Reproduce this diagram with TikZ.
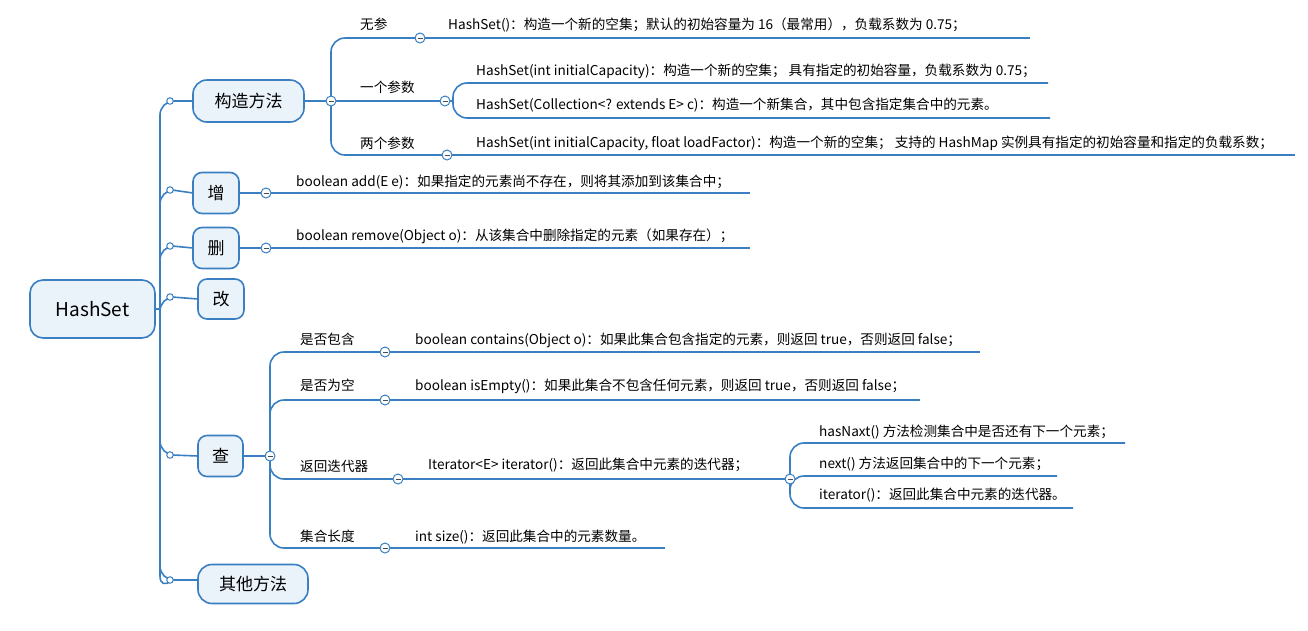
\documentclass[tikz,border=0pt]{standalone}
\usepackage{fontspec}
\setmainfont{Noto Sans CJK SC}
\begin{document}
\begin{tikzpicture}[x=1pt,y=-1pt,
  ln/.style={draw=lc,line width=1.6pt,rounded corners=14pt},
  box/.style={draw=lc,line width=1.6pt,fill=bf,rounded corners=9pt,font=\fontsize{17}{20}\selectfont,inner sep=0pt},
  lf/.style={anchor=base west,font=\fontsize{13.6}{16}\selectfont,inner sep=0pt},
  mn/.style={circle,draw=lc,fill=white,line width=1pt,minimum size=10pt,inner sep=0pt,path picture={\draw[line width=1pt,black!70] ([xshift=-2.5pt]path picture bounding box.center)--([xshift=2.5pt]path picture bounding box.center);}},
  dot/.style={circle,draw=lc,fill=white,line width=1pt,minimum size=6.5pt,inner sep=0pt}]
\definecolor{lc}{HTML}{3A7FC1}
\definecolor{bf}{HTML}{EAF2FA}
\useasboundingbox (0,0) rectangle (1308,630);
% trunk
\draw[ln] (155,309) -- (160,309);
\draw[ln] (172,101) -| (160,590) -- (172,580);
\draw[ln] (160,300) |- (172,190);
\draw[ln] (160,300) |- (172,246);
\draw[ln] (160,300) |- (172,297);
\draw[ln] (160,320) |- (172,455);
\draw[ln] (160,320) |- (198,580);
\draw[ln] (172,101)--(193,101);
\draw[ln] (172,190)--(193,193);
\draw[ln] (172,246)--(193,248);
\draw[ln] (172,297)--(198,299);
\draw[ln] (172,455)--(198,456);
\node[box,minimum width=125pt,minimum height=58pt,rounded corners=13pt,font=\fontsize{19}{22}\selectfont] (root) at (92.5,309) {HashSet};
\node[box,minimum width=111pt,minimum height=42pt,rounded corners=14pt] (gz) at (248.5,101) {构造方法};
\node[box,minimum width=46pt,minimum height=41pt] (zeng) at (216,193) {增};
\node[box,minimum width=46pt,minimum height=41pt] (shan) at (216,248) {删};
\node[box,minimum width=46pt,minimum height=40pt] (gai) at (221,299) {改};
\node[box,minimum width=45pt,minimum height=41pt] (cha) at (220.5,456) {查};
\node[box,minimum width=110pt,minimum height=39pt,rounded corners=14pt] (qt) at (253,584) {其他方法};
\foreach \y/\n in {101/a,190/b,246/c,297/d,455/e,580/f} \node[dot] (d\n) at (170,\y) {};
% 构造方法
\draw[ln] (gz.east) -- (331,101);
\draw[ln] (331,101) |- (420,38);
\draw[ln] (331,101) -- (445,101);
\draw[ln] (331,101) |- (447,155);
\node[lf] (wc) at (360,29) {无参};
\node[lf] (yg) at (360,92) {一个参数};
\node[lf] (lg) at (360,148) {两个参数};
\draw[ln] (420,38) -- (1030,38);
\node[lf] (l1) at (448,29) {HashSet()：构造一个新的空集；默认的初始容量为 16（最常用），负载系数为 0.75；};
\draw[ln] (445,101) -- (453,101);
\draw[ln] (453,101) |- (1048,83);
\draw[ln] (453,101) |- (1050,118);
\node[lf] (l2) at (476,75) {HashSet(int initialCapacity)：构造一个新的空集； 具有指定的初始容量，负载系数为 0.75；};
\node[lf] (l3) at (476,109) {HashSet(Collection<? extends E> c)：构造一个新集合，其中包含指定集合中的元素。};
\draw[ln] (447,155) -- (1295,155);
\node[lf] (l4) at (476,147) {HashSet(int initialCapacity, float loadFactor)：构造一个新的空集； 支持的 HashMap 实例具有指定的初始容量和指定的负载系数；};
\node[mn] (m0) at (331,101) {};
\node[mn] (m1) at (420,38) {};
\node[mn] (m2) at (445,101) {};
\node[mn] (m3) at (447,155) {};
% 增 删
\draw[ln] (zeng.east) -- (266,193) -- (750,193);
\node[lf] (l5) at (296,186) {boolean add(E e)：如果指定的元素尚不存在，则将其添加到该集合中；};
\node[mn] (m4) at (266,193) {};
\draw[ln] (shan.east) -- (266,248) -- (750,248);
\node[lf] (l6) at (296,240) {boolean remove(Object o)：从该集合中删除指定的元素（如果存在）；};
\node[mn] (m5) at (266,248) {};
% 查
\draw[ln] (cha.east) -- (270,456);
\draw[ln] (270,456) |- (385,352);
\draw[ln] (270,456) |- (385,400);
\draw[ln] (270,456) |- (398,479);
\draw[ln] (270,456) |- (385,548);
\node[lf] (c1) at (300,344) {是否包含};
\node[lf] (c2) at (300,390) {是否为空};
\node[lf] (c3) at (300,471) {返回迭代器};
\node[lf] (c4) at (300,541) {集合长度};
\draw[ln] (385,352) -- (980,352);
\node[lf] (l7) at (415,344) {boolean contains(Object o)：如果此集合包含指定的元素，则返回 true，否则返回 false；};
\draw[ln] (385,400) -- (920,400);
\node[lf] (l8) at (415,390) {boolean isEmpty()：如果此集合不包含任何元素，则返回 true，否则返回 false；};
\draw[ln] (398,479) -- (790,479);
\node[lf] (l9) at (428,469) {Iterator<E> iterator()：返回此集合中元素的迭代器；};
\draw[ln] (790,479) |- (1125,443);
\draw[ln] (790,479) |- (1057,476);
\draw[ln] (790,479) |- (1073,508);
\node[lf] (s1) at (819,436) {hasNaxt() 方法检测集合中是否还有下一个元素；};
\node[lf] (s2) at (819,468) {next() 方法返回集合中的下一个元素；};
\node[lf] (s3) at (819,499) {iterator()：返回此集合中元素的迭代器。};
\draw[ln] (385,548) -- (665,548);
\node[lf] (l10) at (415,541) {int size()：返回此集合中的元素数量。};
\node[mn] (m6) at (270,456) {};
\node[mn] (m7) at (385,352) {};
\node[mn] (m8) at (385,400) {};
\node[mn] (m9) at (398,479) {};
\node[mn] (m10) at (790,479) {};
\node[mn] (m11) at (385,548) {};
\end{tikzpicture}
\end{document}
